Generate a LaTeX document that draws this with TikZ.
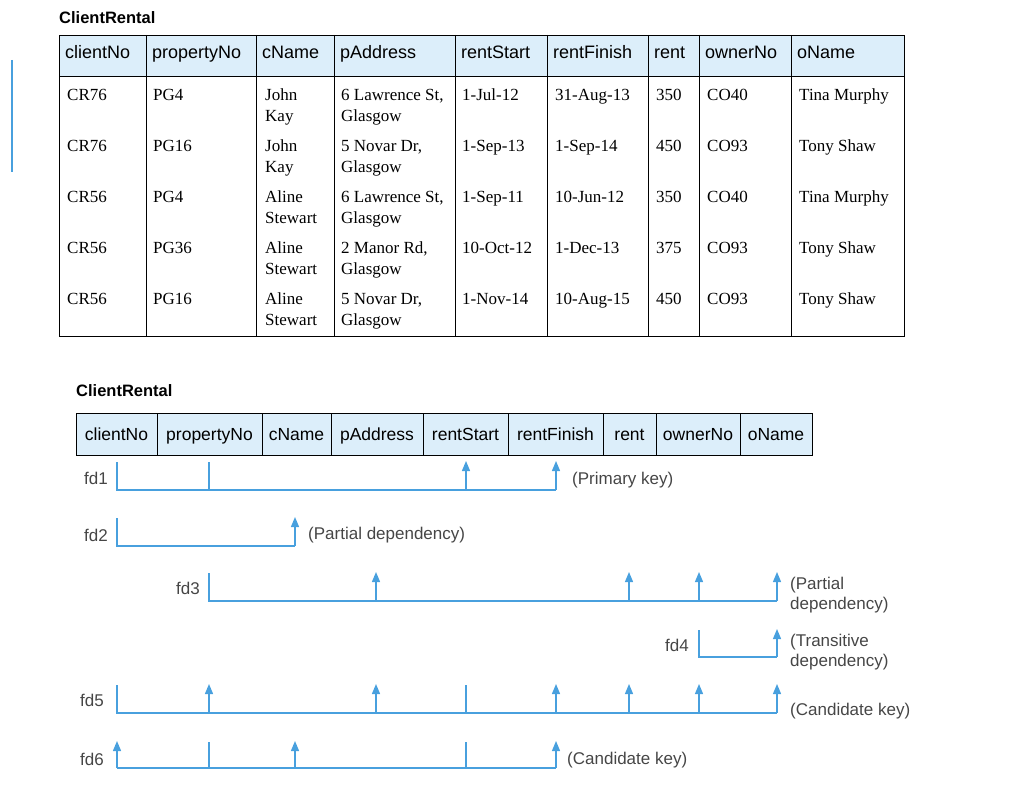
\documentclass[tikz,border=0pt]{standalone}
\usepackage{fontspec}
\setmainfont{Liberation Serif}
\setsansfont{Liberation Sans}
\usetikzlibrary{arrows.meta}
\definecolor{hdr}{RGB}{220,238,250}
\definecolor{fdblue}{RGB}{72,160,222}
\definecolor{lab}{RGB}{70,70,70}
\begin{document}
\begin{tikzpicture}[x=1pt,y=-1pt,
  hd/.style={font=\sffamily\fontsize{18}{20}\selectfont,anchor=base west,inner sep=0pt},
  hd2/.style={font=\sffamily\fontsize{17.5}{20}\selectfont,anchor=base,inner sep=0pt},
  cell/.style={font=\fontsize{17}{21}\selectfont,anchor=base west,align=left,inner sep=0pt},
  ttl/.style={font=\sffamily\bfseries\fontsize{16.5}{18}\selectfont,anchor=base west,inner sep=0pt},
  fl/.style={font=\sffamily\fontsize{17}{20}\selectfont,text=lab,inner sep=0pt},
  fd/.style={draw=fdblue,line width=1.3pt},
  ar/.style={fd,-{Triangle[length=10pt,width=8pt]}}]
\useasboundingbox (0,0) rectangle (1024,799);
\draw[fdblue,line width=1.5pt] (12,60) -- (12,172);
% top table
\node[ttl] (t1) at (59,24) {ClientRental};
\fill[hdr] (59,35) rectangle (904,76);
\draw[line width=0.9pt] (59,35) rectangle (904,336);
\draw[line width=0.9pt] (59,76) -- (904,76);
\foreach \x in {146,256,334,455,547,648,699,791} \draw[line width=0.9pt] (\x,35) -- (\x,336);
\foreach \x/\t in {65/clientNo,152/propertyNo,262/cName,340/pAddress,461/rentStart,553/rentFinish,654/rent,705/ownerNo,797/oName}
  \node[hd] (h\t) at (\x,59) {\t};
\foreach \y/\a/\b/\c/\d/\e/\f/\g/\h/\i in {
 101/CR76/PG4/{John\\Kay}/{6 Lawrence St,\\Glasgow}/1-Jul-12/31-Aug-13/350/CO40/Tina Murphy,
 152/CR76/PG16/{John\\Kay}/{5 Novar Dr,\\Glasgow}/1-Sep-13/1-Sep-14/450/CO93/Tony Shaw,
 203/CR56/PG4/{Aline\\Stewart}/{6 Lawrence St,\\Glasgow}/1-Sep-11/10-Jun-12/350/CO40/Tina Murphy,
 254/CR56/PG36/{Aline\\Stewart}/{2 Manor Rd,\\Glasgow}/10-Oct-12/1-Dec-13/375/CO93/Tony Shaw,
 305/CR56/PG16/{Aline\\Stewart}/{5 Novar Dr,\\Glasgow}/1-Nov-14/10-Aug-15/450/CO93/Tony Shaw}{
  \node[cell] at (67,\y) {\a};
  \node[cell] at (153,\y) {\b};
  \node[cell,anchor=north west] at (265,\y-12) {\c};
  \node[cell,anchor=north west] at (341,\y-12) {\d};
  \node[cell] at (462,\y) {\e};
  \node[cell] at (555,\y) {\f};
  \node[cell] at (656,\y) {\g};
  \node[cell] at (707,\y) {\h};
  \node[cell] at (799,\y) {\i};
}
% bottom table
\node[ttl] (t2) at (76,396) {ClientRental};
\fill[hdr] (76,413) rectangle (812,455);
\draw[line width=0.9pt] (76,413) rectangle (812,455);
\foreach \a/\b/\t in {76/157/clientNo,157/262/propertyNo,262/331/cName,331/423/pAddress,423/508/rentStart,508/603/rentFinish,603/656/rent,656/740/ownerNo,740/812/oName}{
  \draw[line width=0.9pt] (\b,413) -- (\b,455);
  \node[hd2] (b\t) at ({(\a+\b)/2},440) {\t};
}
\def\xa{117}\def\xb{209}\def\xc{295}\def\xd{376}\def\xe{466}\def\xf{556}\def\xg{629}\def\xh{699}\def\xi{777}
% fd1
\node[fl,anchor=east] (fd1) at (108,478) {fd1};
\draw[fd] (\xa,462) -- (\xa,490) -- (\xf,490);
\draw[fd] (\xb,462) -- (\xb,490);
\draw[ar] (\xe,490) -- (\xe,461);
\draw[ar] (\xf,490) -- (\xf,461);
\node[fl,anchor=west] at (572,480) {(Primary key)};
% fd2
\node[fl,anchor=east] (fd2) at (108,535) {fd2};
\draw[fd] (\xa,518) -- (\xa,546) -- (\xc,546);
\draw[ar] (\xc,546) -- (\xc,517);
\node[fl,anchor=west] at (308,535) {(Partial dependency)};
% fd3
\node[fl,anchor=east] (fd3) at (200,588) {fd3};
\draw[fd] (\xb,573) -- (\xb,601) -- (\xi,601);
\foreach \x in {\xd,\xg,\xh,\xi} \draw[ar] (\x,601) -- (\x,572);
\node[fl,anchor=west,align=left] at (790,595) {(Partial\\dependency)};
% fd4
\node[fl,anchor=east] (fd4) at (689,645) {fd4};
\draw[fd] (\xh,630) -- (\xh,657) -- (\xi,657);
\draw[ar] (\xi,657) -- (\xi,629);
\node[fl,anchor=west,align=left] at (790,652) {(Transitive\\dependency)};
% fd5
\node[fl,anchor=east] (fd5) at (104,700) {fd5};
\draw[fd] (\xa,685) -- (\xa,713) -- (\xi,713);
\draw[fd] (\xe,685) -- (\xe,713);
\foreach \x in {\xb,\xd,\xf,\xg,\xh,\xi} \draw[ar] (\x,713) -- (\x,684);
\node[fl,anchor=west] at (790,711) {(Candidate key)};
% fd6
\node[fl,anchor=east] (fd6) at (104,759) {fd6};
\draw[fd] (\xa,768) -- (\xf,768);
\draw[ar] (\xa,768) -- (\xa,741);
\draw[fd] (\xb,742) -- (\xb,768);
\draw[fd] (\xe,742) -- (\xe,768);
\draw[ar] (\xc,768) -- (\xc,741);
\draw[ar] (\xf,768) -- (\xf,741);
\node[fl,anchor=west] at (567,760) {(Candidate key)};
\end{tikzpicture}
\end{document}
